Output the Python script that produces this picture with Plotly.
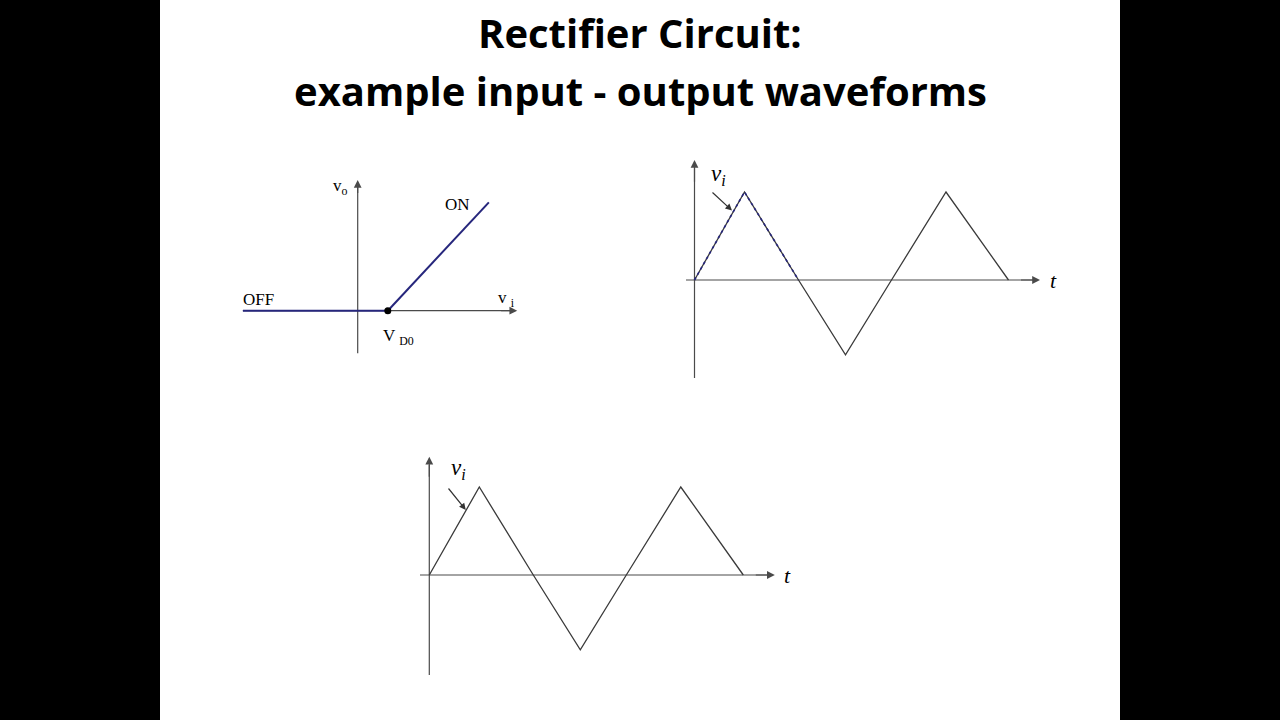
import plotly.graph_objects as go

# ---------------- data ----------------
# diode transfer characteristic
VD0 = 0.7
vi_off = [-2.67, VD0]
vo_off = [0.0, 0.0]
vi_on = [VD0, 3.05]
vo_on = [0.0, 2.52]

# triangular input waveform
t_wave = [0.0, 1.0, 2.08, 3.02, 3.94, 5.03, 6.28]
vi_wave = [0.0, 1.0, 0.0, -0.85, 0.0, 1.0, 0.0]

title_lines = ["Rectifier Circuit:", "example input - output waveforms"]

W, H = 1280, 720
AX = "#4a4a4a"
WAVE = "#3a3a3a"
BLUE = "#26267c"

fig = go.Figure()

def px_dom_x(a, b):
    return [a / W, b / W]

def px_dom_y(top, bot):
    return [1 - bot / H, 1 - top / H]

# ---- panel 1: transfer characteristic (x, y) ----
fig.add_trace(go.Scatter(x=[-2.67, 3.60], y=[0, 0], mode="lines",
                         line=dict(color=AX, width=1.2), xaxis="x", yaxis="y", hoverinfo="skip"))
fig.add_trace(go.Scatter(x=[0, 0], y=[-0.99, 2.95], mode="lines",
                         line=dict(color=AX, width=1.2), xaxis="x", yaxis="y", hoverinfo="skip"))
fig.add_trace(go.Scatter(x=vi_off, y=vo_off, mode="lines",
                         line=dict(color=BLUE, width=2), xaxis="x", yaxis="y"))
fig.add_trace(go.Scatter(x=vi_on, y=vo_on, mode="lines",
                         line=dict(color=BLUE, width=2), xaxis="x", yaxis="y"))
fig.add_trace(go.Scatter(x=[VD0], y=[0], mode="markers",
                         marker=dict(color="black", size=7), xaxis="x", yaxis="y"))

# ---- panel 2: input waveform with output overlay (x2, y2) ----
fig.add_trace(go.Scatter(x=[-0.17, 6.80], y=[0, 0], mode="lines",
                         line=dict(color=AX, width=1.2), xaxis="x2", yaxis="y2"))
fig.add_trace(go.Scatter(x=[0, 0], y=[-1.114, 1.27], mode="lines",
                         line=dict(color=AX, width=1.2), xaxis="x2", yaxis="y2"))
fig.add_trace(go.Scatter(x=t_wave, y=vi_wave, mode="lines",
                         line=dict(color=WAVE, width=1.3), xaxis="x2", yaxis="y2"))
fig.add_trace(go.Scatter(x=t_wave[:3], y=vi_wave[:3], mode="lines",
                         line=dict(color=BLUE, width=1.6, dash="dot"), xaxis="x2", yaxis="y2"))

# ---- panel 3: input waveform (x3, y3) ----
fig.add_trace(go.Scatter(x=[-0.186, 6.80], y=[0, 0], mode="lines",
                         line=dict(color=AX, width=1.2), xaxis="x3", yaxis="y3"))
fig.add_trace(go.Scatter(x=[0, 0], y=[-1.136, 1.25], mode="lines",
                         line=dict(color=AX, width=1.2), xaxis="x3", yaxis="y3"))
fig.add_trace(go.Scatter(x=t_wave, y=vi_wave, mode="lines",
                         line=dict(color=WAVE, width=1.3), xaxis="x3", yaxis="y3"))

ann = []

def arrow(xr, yr, x, y, axv, ayv, width=1.2, size=1.3, head=2, color=AX):
    ann.append(dict(xref=xr, yref=yr, axref=xr, ayref=yr, x=x, y=y, ax=axv, ay=ayv,
                    showarrow=True, arrowhead=head, arrowsize=size, arrowwidth=width,
                    arrowcolor=color, text="", standoff=0, startstandoff=0))

def label(xr, yr, x, y, text, size=17, family="Liberation Serif"):
    ann.append(dict(xref=xr, yref=yr, x=x, y=y, text=text, showarrow=False,
                    font=dict(family=family, size=size, color="black"),
                    xanchor="center", yanchor="middle"))

# axis arrowheads
arrow("x", "y", 3.71, 0, 3.3, 0)
arrow("x", "y", 0, 3.04, 0, 2.7)
arrow("x2", "y2", 6.91, 0, 6.5, 0)
arrow("x2", "y2", 0, 1.364, 0, 1.1)
arrow("x3", "y3", 6.91, 0, 6.5, 0)
arrow("x3", "y3", 0, 1.344, 0, 1.1)

# panel 1 labels
label("x", "y", -2.30, 0.27, "OFF")
label("x", "y", 2.31, 2.48, "ON")
label("x", "y", -0.40, 2.88, "v<sub>o</sub>")
label("x", "y", 3.47, 0.28, "v <sub>i</sub>")
label("x", "y", 0.95, -0.60, "V <sub>D0</sub>")

# panel 2 labels
label("x2", "y2", 0.48, 1.19, "<i>v<sub>i</sub></i>", size=23)
arrow("x2", "y2", 0.75, 0.79, 0.33, 1.01, width=1.2, size=1.1, color="#333333")
label("x2", "y2", 7.17, 0, "<i>t</i>", size=22)

# panel 3 labels
label("x3", "y3", 0.58, 1.2, "<i>v<sub>i</sub></i>", size=23)
arrow("x3", "y3", 0.73, 0.74, 0.36, 1.0, width=1.2, size=1.1, color="#333333")
label("x3", "y3", 7.17, 0, "<i>t</i>", size=22)

# title
for txt, py in zip(title_lines, [33, 90]):
    ann.append(dict(xref="paper", yref="paper", x=0.5, y=1 - py / H, text="<b>" + txt + "</b>",
                    showarrow=False, xanchor="center", yanchor="middle",
                    font=dict(family="Open Sans", size=40, color="black")))

ax_common = dict(visible=False, showgrid=False, zeroline=False, fixedrange=True)

fig.update_layout(
    width=W, height=H,
    margin=dict(l=0, r=0, t=0, b=0),
    paper_bgcolor="black",
    plot_bgcolor="rgba(0,0,0,0)",
    showlegend=False,
    xaxis=dict(domain=px_dom_x(225, 535), range=[(225 - 357.7) / 43, (535 - 357.7) / 43], **ax_common),
    yaxis=dict(domain=px_dom_y(165, 365), range=[(310.7 - 365) / 43, (310.7 - 165) / 43], **ax_common),
    xaxis2=dict(domain=px_dom_x(670, 1075), range=[(670 - 694.5) / 50, (1075 - 694.5) / 50], **ax_common),
    yaxis2=dict(domain=px_dom_y(150, 395), range=[(280 - 395) / 88, (280 - 150) / 88], **ax_common),
    xaxis3=dict(domain=px_dom_x(405, 810), range=[(405 - 429.3) / 50, (810 - 429.3) / 50], **ax_common),
    yaxis3=dict(domain=px_dom_y(445, 690), range=[(575 - 690) / 88, (575 - 445) / 88], **ax_common),
    annotations=ann,
    shapes=[dict(type="rect", xref="paper", yref="paper", x0=160 / W, x1=1120 / W, y0=0, y1=1,
                 fillcolor="white", line=dict(width=0), layer="below")],
)

fig.write_html("out.html", config={"displayModeBar": False},
               post_script="document.body.style.margin='0';document.body.style.background='black';")
